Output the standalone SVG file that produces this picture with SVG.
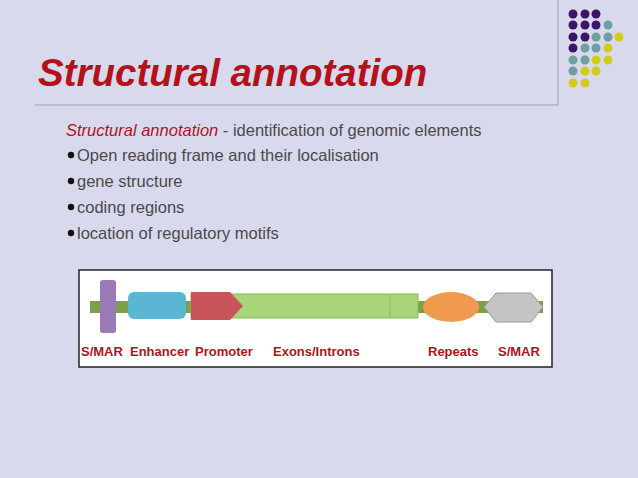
<svg xmlns="http://www.w3.org/2000/svg" width="638" height="478" viewBox="0 0 638 478">
<style>
.p{fill:#3d1466}.t{fill:#6f9fa0}.y{fill:#d4cc1a}
.b{font-family:"Liberation Sans",Arial,sans-serif;font-size:16.5px;fill:#4a4a4a}
.lab{font-family:"Liberation Sans Narrow","Liberation Sans",Arial,sans-serif;font-size:13px;font-weight:bold;fill:#b3121a}
</style>
<rect width="638" height="478" fill="#d9d9ed"/>
<line x1="558" y1="0" x2="558" y2="105" stroke="#a0a0b0"/>
<line x1="35" y1="105" x2="558" y2="105" stroke="#a0a0b0"/>
<g id="dots">
<circle class="p" cx="573" cy="14" r="4.5"/><circle class="p" cx="585" cy="14" r="4.5"/><circle class="p" cx="596" cy="14" r="4.5"/>
<circle class="p" cx="573" cy="25" r="4.5"/><circle class="p" cx="585" cy="25" r="4.5"/><circle class="p" cx="596" cy="25" r="4.5"/><circle class="t" cx="608" cy="25" r="4.5"/>
<circle class="p" cx="573" cy="37" r="4.5"/><circle class="p" cx="585" cy="37" r="4.5"/><circle class="t" cx="596" cy="37" r="4.5"/><circle class="t" cx="608" cy="37" r="4.5"/><circle class="y" cx="619" cy="37" r="4.5"/>
<circle class="p" cx="573" cy="48" r="4.5"/><circle class="t" cx="585" cy="48" r="4.5"/><circle class="t" cx="596" cy="48" r="4.5"/><circle class="y" cx="608" cy="48" r="4.5"/>
<circle class="t" cx="573" cy="60" r="4.5"/><circle class="t" cx="585" cy="60" r="4.5"/><circle class="y" cx="596" cy="60" r="4.5"/><circle class="y" cx="608" cy="60" r="4.5"/>
<circle class="t" cx="573" cy="71" r="4.5"/><circle class="y" cx="585" cy="71" r="4.5"/><circle class="y" cx="596" cy="71" r="4.5"/>
<circle class="y" cx="573" cy="83" r="4.5"/><circle class="y" cx="585" cy="83" r="4.5"/>
</g>
<text x="38" y="86" font-family="Liberation Sans,Arial,sans-serif" font-size="38.5" font-weight="bold" font-style="italic" fill="#b3121a">Structural annotation</text>
<text x="66" y="136" class="b"><tspan fill="#b3121a" font-style="italic">Structural annotation</tspan> - identification of genomic elements</text>
<g fill="#111"><circle cx="71" cy="155" r="3.2"/><circle cx="71" cy="181" r="3.2"/><circle cx="71" cy="207" r="3.2"/><circle cx="71" cy="233" r="3.2"/></g>
<text class="b" x="77" y="161">Open reading frame and their localisation</text>
<text class="b" x="77" y="187">gene structure</text>
<text class="b" x="77" y="213">coding regions</text>
<text class="b" x="77" y="239">location of regulatory motifs</text>
<g id="figure">
<rect x="79" y="270" width="473" height="97" fill="#fff" stroke="#222" stroke-width="1.5"/>
<rect x="90" y="301" width="453" height="12" fill="#7ea04a"/>
<rect x="191" y="294" width="227" height="24" fill="#a8d47a" stroke="#8ab85c"/>
<line x1="390" y1="294" x2="390" y2="318" stroke="#8ab85c"/>
<rect x="100" y="280" width="16" height="53" rx="3" fill="#9a7ab8"/>
<rect x="128" y="292" width="58" height="27" rx="6" fill="#5bb6d4"/>
<path d="M191 292 H230 L243 306 L230 320 H191 Z" fill="#c9555a"/>
<ellipse cx="451" cy="307" rx="28" ry="15" fill="#f09a50"/>
<path d="M484 307 L496 293 H531 L543 307 L531 322 H496 Z" fill="#c4c4c4" stroke="#999"/>
<text class="lab" x="81" y="356">S/MAR</text>
<text class="lab" x="130" y="356">Enhancer</text>
<text class="lab" x="195" y="356">Promoter</text>
<text class="lab" x="273" y="356">Exons/Introns</text>
<text class="lab" x="428" y="356">Repeats</text>
<text class="lab" x="498" y="356">S/MAR</text>
</g>
</svg>
